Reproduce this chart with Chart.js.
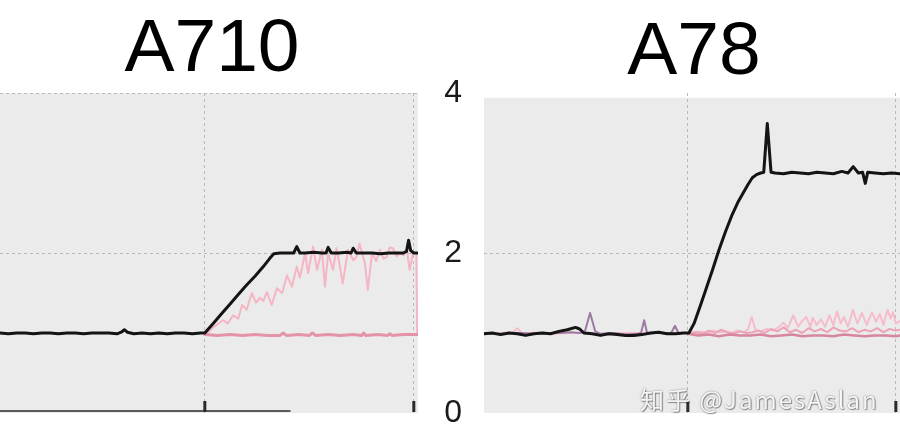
<!DOCTYPE html>
<html lang="zh">
<head>
<meta charset="UTF-8">
<title>A710 / A78</title>
<script src="https://cdn.jsdelivr.net/npm/chart.js"></script>
<style>
  html, body { margin: 0; padding: 0; background: #fff; }
  body { width: 900px; height: 438px; position: relative; overflow: hidden; }
  .box { position: absolute; top: 0; }
  .ttl {
    position: absolute; font-family: "Liberation Sans", Arial, sans-serif;
    font-size: 75px; line-height: 1; color: #000; text-align: center; z-index: 3;
  }
  .wm {
    position: absolute; left: 640px; top: 387px; z-index: 4;
    font-family: "Noto Sans CJK SC", "Noto Sans", sans-serif; font-size: 24px; line-height: 1;
    letter-spacing: 2px; color: rgba(255,255,255,0.92);
    text-shadow: 0 0 2px rgba(0,0,0,0.5), 1px 1px 1px rgba(0,0,0,0.35);
  }
</style>
</head>
<body>
<div class="ttl" style="left:0;width:424px;top:8px">A710</div>
<div class="ttl" style="left:484px;width:420px;top:11px">A78</div>
<div class="box" style="left:0"><canvas id="left" width="430" height="438"></canvas></div>
<div class="box" style="left:420px"><canvas id="right" width="480" height="438"></canvas></div>
<div class="wm">知乎 @JamesAslan</div>

<script>
// shared axis settings
const xRange = [102, 302];
const xTicks = [200, 300];
const yTicks = [0, 2, 4];
const yLabels = ['0', '2', '4'];

// A710 panel
const k710X = [102,106,110,114,118,122,126,130,134,138,142,146,150,154,158,160,161.5,163,166,170,174,178,182,186,190,194,198,200,204,208,212,216,220,224,228,231,233,236,240,242.5,244,245.5,248,252,256,258,259,260.5,264,268,270,271,272.5,276,280,284,288,292,295,296.5,297.5,298.5,300,302];
const k710Y = [1.0,0.99,1.0,1.0,0.99,1.0,1.0,0.99,1.0,1.0,0.99,1.0,1.0,1.0,0.99,1.01,1.04,1.01,0.99,1.0,0.99,1.0,0.99,1.0,1.0,0.99,1.0,1.0,1.12,1.24,1.36,1.48,1.6,1.71,1.83,1.93,1.99,2.0,2.0,2.0,2.08,2.0,2.0,2.01,2.0,2.0,2.07,2.0,2.0,2.01,2.0,2.06,2.0,2.0,2.0,1.99,2.0,2.0,2.0,2.02,2.16,2.03,2.0,2.0];

const p710X = [200,201,204,208.7,211,213.5,216,217.8,220,222.5,224.5,226.4,228,229.7,232,234.5,237,239.3,241.7,244,245.5,248,249.4,251.8,253.7,256,257.5,259,261.3,263,264.5,266,268.5,271,272.5,274,276.6,278,280,282,283.8,285.5,287,288.5,290,291.8,293.4,295,296.7,298,299.6,301.2,301.6];
const p710Y = [1.0,0.99,1.07,1.16,1.12,1.22,1.18,1.35,1.29,1.5,1.38,1.44,1.4,1.51,1.35,1.56,1.5,1.72,1.58,1.83,1.69,2.0,1.75,2.08,1.79,2.04,1.58,2.0,1.79,2.06,1.85,1.62,2.04,1.91,1.95,2.12,1.87,1.54,2.0,1.9,2.04,1.93,1.95,2.07,2.06,1.96,2.0,1.97,2.04,1.79,2.0,2.0,1.0];

const m710X = [200,206,212,218,224,230,236,237.5,239,245,250,251.5,253,259,265,271,275,276,277,283,287.5,288.5,289.5,295,301.5,302];
const m710Y = [0.98,0.97,0.98,0.97,0.98,0.97,0.97,1.0,0.97,0.98,0.97,1.0,0.97,0.98,0.97,0.98,0.97,1.0,0.97,0.98,0.97,0.99,0.97,0.98,0.98,0.98];

// A78 panel
const k78X = [102,106,110,114,118,122,126,130,134,138,142,146,148,150,154,158,162,166,170,174,178,182,186,190,194,198,200.5,203,206,209,212,215,218,221,224,227,229,231,233,235,236.5,238.2,240,242,246,250,254,258,262,266,270,274,277,279.5,282,284,285.3,286.5,290,294,298,302];
const k78Y = [0.99,1.0,0.98,1.0,0.99,0.97,0.99,1.0,0.99,1.02,1.04,1.07,1.05,1.0,0.99,0.97,0.99,0.98,0.97,0.97,0.98,1.0,1.01,0.99,0.99,1.0,1.0,1.12,1.34,1.57,1.8,2.04,2.26,2.46,2.63,2.77,2.86,2.94,2.98,3.0,3.01,3.62,3.01,3.0,2.99,3.01,3.0,2.99,3.01,3.0,2.99,3.02,3.0,3.08,3.0,3.01,2.87,3.01,3.0,2.99,3.0,2.99];

const u78X = [102,108,114,120,126,132,138,144,148,150.5,153,155.5,158,164,170,176,177.5,179,180.5,184,188,192,193.8,195.5,200];
const u78Y = [1.0,0.99,1.0,1.0,0.99,1.0,1.0,1.01,1.0,1.02,1.25,1.02,0.99,1.0,0.98,0.99,1.0,1.16,0.99,1.0,1.0,1.0,1.09,1.0,1.0];

const p78X = [102,110,116,118,120,126,134,142,150,160,170,180,190,200,203,206,209,212,215,218,221,224,227,229,230.7,232.5,235,238,241,244,246,248,250.7,253,255,257,259,260,262,264,266,268,270,271.7,273.5,275,277,279.4,281.5,283.7,286,288.5,290.5,292.3,294,296,297.5,298.6,300,302];
const p78Y = [1.0,1.0,1.01,1.06,1.0,1.0,0.99,1.0,1.0,0.99,1.0,1.0,1.0,1.0,1.0,1.02,1.0,1.03,1.01,1.02,1.0,1.03,1.01,1.05,1.2,1.04,1.02,1.05,1.03,1.08,1.13,1.06,1.22,1.08,1.15,1.2,1.07,1.19,1.1,1.17,1.08,1.22,1.1,1.27,1.12,1.2,1.08,1.29,1.12,1.25,1.1,1.26,1.14,1.24,1.1,1.29,1.18,1.26,1.12,1.15];

const n78X = [200,204,207,210,213,216,219,222,225,228,231,234,237,240,243,246,249,252,255,258,261,264,267,270,273,276,279,282,285,288,291,294,297,300,302];
const n78Y = [1.0,1.01,0.99,1.03,1.0,1.04,1.01,0.99,1.02,1.0,1.01,1.03,1.0,1.05,1.02,1.07,1.01,1.04,1.0,1.06,1.02,1.05,1.01,1.07,1.03,1.02,1.06,1.01,1.04,1.02,1.06,1.01,1.05,1.03,1.04];

const r78X = [200,205,210,215,220,225,230,235,240,245,250,255,260,265,270,275,280,285,290,295,300,302];
const r78Y = [0.99,0.97,0.98,0.96,0.98,0.97,0.97,0.98,0.96,0.97,0.98,0.96,0.97,0.97,0.96,0.98,0.97,0.96,0.97,0.97,0.96,0.97];

const pts = (xs, ys) => xs.map((x, i) => ({ x: x, y: ys[i] }));

// grey panel, bottom tick marks and the stray axis line
const panel = {
  id: 'panel',
  beforeDraw(chart, args, o) {
    const { ctx, chartArea: a, scales } = chart;
    const top = o.top != null ? scales.y.getPixelForValue(o.top) : a.top;
    ctx.save();
    ctx.fillStyle = '#ebebeb';
    ctx.fillRect(a.left, top, a.right - a.left, a.bottom - top);
    ctx.restore();
  },
  afterDraw(chart, args, o) {
    const { ctx, chartArea: a, scales } = chart;
    ctx.save();
    ctx.strokeStyle = '#2a2a2a';
    if (o.axisTo != null) {
      ctx.lineWidth = 1.5;
      ctx.beginPath();
      ctx.moveTo(a.left, a.bottom - 2);
      ctx.lineTo(scales.x.getPixelForValue(o.axisTo), a.bottom - 2);
      ctx.stroke();
    }
    ctx.lineWidth = 3;
    xTicks.forEach(v => {
      const px = scales.x.getPixelForValue(v);
      ctx.beginPath();
      ctx.moveTo(px, a.bottom - 12);
      ctx.lineTo(px, a.bottom - 1);
      ctx.stroke();
    });
    ctx.restore();
  }
};

function line(data, color, width) {
  return { data: data, borderColor: color, borderWidth: width, pointRadius: 0, tension: 0,
           borderJoinStyle: 'round', borderCapStyle: 'round', fill: false };
}

function scalesFor(showLabels, topGrid) {
  return {
    x: {
      type: 'linear', min: xRange[0], max: xRange[1],
      afterBuildTicks: s => { s.ticks = xTicks.map(v => ({ value: v })); },
      afterFit: s => { s.height = 0; s.paddingLeft = 0; s.paddingRight = 0; },
      ticks: { display: false },
      grid: { color: '#b9b9b9', lineWidth: 1, drawTicks: false },
      border: { display: false, dash: [3, 3] }
    },
    y: {
      min: yTicks[0], max: yTicks[yTicks.length - 1],
      afterBuildTicks: s => { s.ticks = yTicks.map(v => ({ value: v })); },
      afterFit: s => { s.width = showLabels ? 64 : 0; s.paddingTop = 0; s.paddingBottom = 0; },
      ticks: {
        display: showLabels, padding: 22, color: '#1a1a1a',
        font: { family: 'Liberation Sans', size: 32 },
        callback: (v) => yLabels[yTicks.indexOf(v)]
      },
      grid: {
        drawTicks: false, lineWidth: 1,
        color: c => (c.tick.value === 2 || (topGrid && c.tick.value === 4)) ? '#b9b9b9' : 'rgba(0,0,0,0)'
      },
      border: { display: false, dash: [3, 3] }
    }
  };
}

const common = {
  responsive: false, animation: false,
  plugins: { legend: { display: false }, tooltip: { enabled: false } }
};

new Chart(document.getElementById('left'), {
  type: 'line',
  data: { datasets: [
    line(pts(k710X, k710Y), '#141414', 3),
    line(pts(m710X, m710Y), '#e593a6', 3),
    line(pts(p710X, p710Y), '#f5b5c3', 2)
  ] },
  options: Object.assign({}, common, {
    layout: { padding: { left: 0, top: 93, right: 12, bottom: 25 } },
    scales: scalesFor(false, true),
    plugins: Object.assign({}, common.plugins, { panel: { axisTo: 241 } })
  }),
  plugins: [panel]
});

new Chart(document.getElementById('right'), {
  type: 'line',
  data: { datasets: [
    line(pts(k78X, k78Y), '#141414', 3),
    line(pts(u78X, u78Y), '#9d7aa3', 2),
    line(pts(r78X, r78Y), '#d6869d', 2.5),
    line(pts(n78X, n78Y), '#eca3b6', 2),
    line(pts(p78X, p78Y), '#f6bccb', 2)
  ] },
  options: Object.assign({}, common, {
    layout: { padding: { left: 0, top: 93, right: 0, bottom: 25 } },
    scales: scalesFor(true, false),
    plugins: Object.assign({}, common.plugins, { panel: { top: 3.94 } })
  }),
  plugins: [panel]
});
</script>
</body>
</html>
